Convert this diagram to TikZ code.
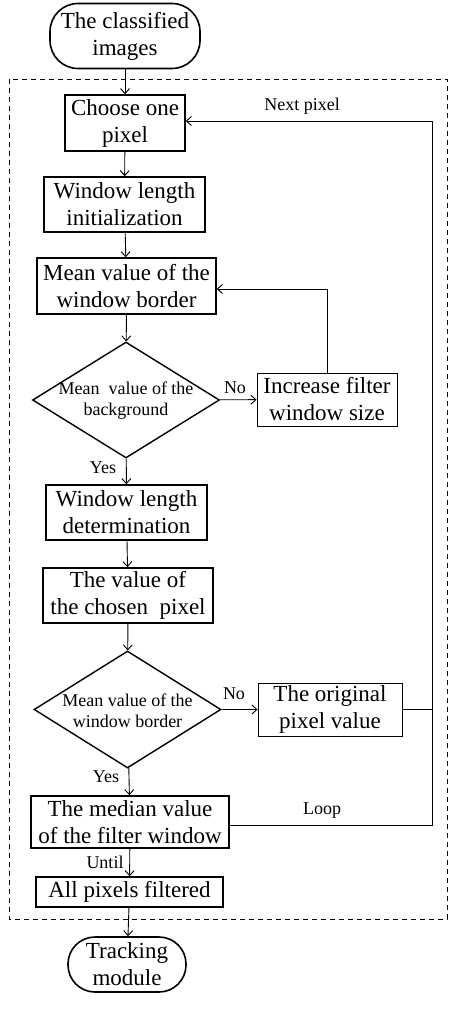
\documentclass[tikz,border=0pt]{standalone}
\usepackage{fontspec}
\setmainfont{Liberation Serif}
\usetikzlibrary{shapes.geometric,arrows.meta}
\begin{document}
\begin{tikzpicture}[x=1pt,y=-1pt,
  boxfont/.style={font=\fontsize{23}{27}\selectfont},
  smallfont/.style={font=\fontsize{18}{21}\selectfont},
  thickbox/.style={draw,line width=1.6pt,inner sep=0pt,align=center,boxfont},
  thinbox/.style={draw,line width=0.9pt,inner sep=0pt,align=center,boxfont},
  term/.style={draw,line width=1.6pt,inner sep=0pt,align=center,boxfont,rounded corners=28pt},
  decide/.style={draw,diamond,line width=1.4pt,inner sep=0pt},
  dtext/.style={inner sep=0pt,align=center,smallfont},
  conn/.style={line width=0.9pt},
  arr/.style={conn,-{Straight Barb[length=5pt,width=9pt,line width=0.9pt]}},
  lbl/.style={smallfont,inner sep=0pt}
]
\useasboundingbox (0,0) rectangle (474,1019);
\fill[white] (0,0) rectangle (474,1019);

% dashed frame
\draw[dashed,line width=0.8pt,dash pattern=on 5pt off 4pt] (9,79) rectangle (447,919);

\node[term,minimum width=150,minimum height=65] (start) at (125,36) {The classified\\images};
\node[thickbox,minimum width=120,minimum height=56] (choose) at (125,123) {Choose one\\pixel};
\node[thickbox,minimum width=161,minimum height=55] (init) at (124.5,204.5) {Window length\\initialization};
\node[thickbox,minimum width=179,minimum height=56] (meanb) at (126.5,286) {Mean value of the\\window border};
\node[decide,minimum width=187,minimum height=116] (d1) at (126,400) {};
\node[dtext] (d1t) at (126,401) {Mean\ \ value of the\\background};
\node[thinbox,minimum width=140,minimum height=53] (incr) at (327,399.5) {Increase filter\\window size};
\node[thickbox,minimum width=161,minimum height=55] (det) at (126.5,512.5) {Window length\\determination};
\node[thickbox,minimum width=170,minimum height=55] (val) at (128,595.5) {The value of\\the chosen\ \ pixel};
\node[decide,minimum width=187,minimum height=117] (d2) at (127.5,709.5) {};
\node[dtext] (d2t) at (127.5,711) {Mean value of the\\window border};
\node[thinbox,minimum width=144,minimum height=53] (orig) at (330,709.5) {The original\\pixel value};
\node[thickbox,minimum width=198,minimum height=52] (med) at (130,822) {The median value\\of the filter window};
\node[thickbox,minimum width=187,minimum height=30] (all) at (129.5,892) {All pixels filtered};
\node[term,minimum width=118,minimum height=55,rounded corners=27pt] (track) at (127,964.5) {Tracking\\module};

% right loop line
\coordinate (rtop) at (432,121);
\coordinate (rbot) at (432,825);
\coordinate (incrtop) at (incr.north |- 0,289);

% main flow
\draw[arr] (start) -- (choose);
\draw[arr] (choose) -- (init);
\draw[arr] (init) -- (meanb);
\draw[arr] (meanb) -- (d1);
\draw[arr] (d1) -- (incr);
\draw[arr] (incr.north) -- (incrtop) -- (meanb.east |- incrtop);
\draw[arr] (d1) -- (det);
\draw[arr] (det) -- (val);
\draw[arr] (val) -- (d2);
\draw[arr] (d2) -- (orig);
\draw[arr] (d2) -- (med);
\draw[arr] (med) -- (all);
\draw[arr] (all) -- (track);
\draw[conn] (orig.east) -- (orig.east -| rtop);
\draw[conn] (med.east |- rbot) -- (rbot) -- (rtop);
\draw[arr] (rtop) -- (choose.east |- rtop);

% labels
\node[lbl] (lnext) at (302,106) {Next pixel};
\node[lbl] (lno1) at (235,388) {No};
\node[lbl] (lyes1) at (103,468) {Yes};
\node[lbl] (lno2) at (234,694) {No};
\node[lbl] (lyes2) at (106,777) {Yes};
\node[lbl] (lloop) at (322,811) {Loop};
\node[lbl] (luntil) at (105,862) {Until};
\end{tikzpicture}
\end{document}
